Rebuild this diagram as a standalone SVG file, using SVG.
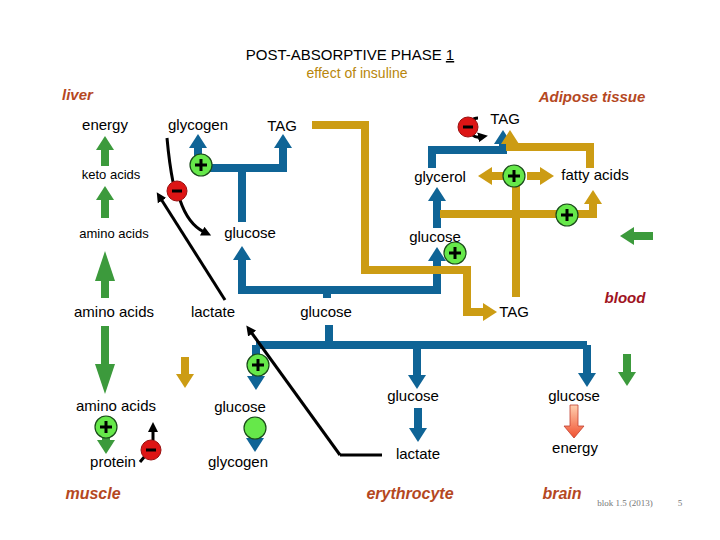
<svg xmlns="http://www.w3.org/2000/svg" width="720" height="540" viewBox="0 0 720 540">
<style>
text{font-family:"Liberation Sans",Arial,sans-serif;fill:#000}
.t{font-size:15px}
.s{font-size:13px;font-weight:bold}
.r{font-size:15px;font-style:italic;font-weight:bold;fill:#b5481f}
.b{fill:none;stroke:#0f6496;stroke-width:8}
.g{fill:none;stroke:#cc9c14;stroke-width:8}
.gr{fill:none;stroke:#3c9a3c;stroke-width:8}
.k{fill:none;stroke:#000;stroke-width:3}
.p{fill:#66e84a;stroke:#1a4a1a;stroke-width:1.2}
.m{fill:#dd1515;stroke:#991010;stroke-width:1}
.sym{stroke:#000;stroke-width:3}
</style>
<defs>
<marker id="ab" markerUnits="userSpaceOnUse" markerWidth="20" markerHeight="20" refX="2" refY="10" orient="auto"><path d="M0,1 L14,10 L0,19 Z" fill="#0f6496"/></marker>
<marker id="ag" markerUnits="userSpaceOnUse" markerWidth="20" markerHeight="20" refX="2" refY="10" orient="auto"><path d="M0,1 L14,10 L0,19 Z" fill="#cc9c14"/></marker>
<marker id="agr" markerUnits="userSpaceOnUse" markerWidth="20" markerHeight="20" refX="2" refY="10" orient="auto"><path d="M0,1 L14,10 L0,19 Z" fill="#3c9a3c"/></marker>
<marker id="agr2" markerUnits="userSpaceOnUse" markerWidth="32" markerHeight="22" refX="2" refY="11" orient="auto"><path d="M0,1 L30,11 L0,21 Z" fill="#3c9a3c"/></marker>
<marker id="ak" markerUnits="userSpaceOnUse" markerWidth="12" markerHeight="12" refX="2" refY="6" orient="auto"><path d="M0,1 L10,6 L0,11 Z" fill="#000"/></marker>
<linearGradient id="sal" x1="0" y1="0" x2="0" y2="1"><stop offset="0" stop-color="#ffd0b0"/><stop offset="1" stop-color="#f05030"/></linearGradient>
</defs>

<g id="titles">
<text x="350" y="60" text-anchor="middle" style="font-size:15px">POST-ABSORPTIVE PHASE <tspan text-decoration="underline">1</tspan></text>
<text x="357" y="78" text-anchor="middle" style="font-size:14px;fill:#b8860b">effect of insuline</text>
<text x="62" y="100" class="r">liver</text>
<text x="592" y="102" class="r" text-anchor="middle">Adipose tissue</text>
<text x="625" y="303" class="r" text-anchor="middle" style="fill:#a0141e">blood</text>
<text x="93" y="499" class="r" text-anchor="middle" style="font-size:16px">muscle</text>
<text x="410" y="499" class="r" text-anchor="middle" style="font-size:16px">erythrocyte</text>
<text x="562" y="499" class="r" text-anchor="middle" style="font-size:16px">brain</text>
<text x="625" y="506" text-anchor="middle" style="font-family:'Liberation Serif',serif;font-size:9px;fill:#777">blok 1.5 (2013)</text>
<text x="680" y="506" text-anchor="middle" style="font-family:'Liberation Serif',serif;font-size:9px;fill:#777">5</text>
</g>

<g id="connectors">
<!-- liver green -->
<line class="gr" x1="105" y1="166" x2="105" y2="148" marker-end="url(#agr)"/>
<line class="gr" x1="105" y1="218" x2="105" y2="198" marker-end="url(#agr)"/>
<line class="gr" x1="105" y1="298" x2="105" y2="279" marker-end="url(#agr2)"/>
<line class="gr" x1="105" y1="326" x2="105" y2="366" marker-end="url(#agr2)"/>
<line class="gr" x1="627" y1="354" x2="627" y2="374" marker-end="url(#agr)"/>
<line class="gr" x1="653" y1="236" x2="632" y2="236" marker-end="url(#agr)"/>
<line class="gr" x1="106" y1="437" x2="106" y2="442" marker-end="url(#agr)"/>
<line class="g" x1="185" y1="357" x2="185" y2="376" marker-end="url(#ag)"/>
<!-- blue -->
<path class="b" d="M198,172 V168 H283 V146" marker-end="url(#ab)"/>
<line class="b" x1="198" y1="168" x2="198" y2="146" marker-end="url(#ab)"/>
<line class="b" x1="242" y1="168" x2="242" y2="222"/>
<path class="b" d="M327,298 V290 H242 V258" marker-end="url(#ab)"/>
<path class="b" d="M327,290 H437 V259" marker-end="url(#ab)"/>
<line class="b" x1="437" y1="228" x2="437" y2="199" marker-end="url(#ab)"/>
<path class="b" d="M432,168 V150 H503 V142" marker-end="url(#ab)"/>
<path class="b" d="M329,325 V345 M256,345 H587 M256,345 V380" />
<line class="b" x1="256" y1="372" x2="256" y2="378" marker-end="url(#ab)"/>
<line class="b" x1="417" y1="345" x2="417" y2="377" marker-end="url(#ab)"/>
<line class="b" x1="587" y1="345" x2="587" y2="375" marker-end="url(#ab)"/>
<line class="b" x1="418" y1="408" x2="418" y2="430" marker-end="url(#ab)"/>
<line class="b" x1="255" y1="438" x2="255" y2="440" marker-end="url(#ab)"/>
<path d="M570,405 H578 V426 H584 L574,438 L564,426 H570 Z" fill="url(#sal)" stroke="#c04030" stroke-width="0.8"/>
<!-- gold -->
<path class="g" d="M312,125 H365 V270 H467 V312 H485" marker-end="url(#ag)"/>
<line class="g" x1="516" y1="297" x2="516" y2="177"/>
<line class="g" x1="505" y1="176" x2="490" y2="176" marker-end="url(#ag)"/>
<line class="g" x1="527" y1="176" x2="542" y2="176" marker-end="url(#ag)"/>
<path class="g" d="M440,214 H593 V202" marker-end="url(#ag)"/>
<path class="g" d="M590,168 V147 H510 V142" marker-end="url(#ag)"/>
<!-- black -->
<line class="k" x1="225" y1="300" x2="161" y2="199" marker-end="url(#ak)"/>
<path class="k" d="M340,455 L251,332" marker-end="url(#ak)"/>
<line class="k" x1="340" y1="455" x2="382" y2="455"/>
<path class="k" d="M167,138 C169,160 171,172 173,182" stroke-width="2.5"/>
<path class="k" d="M180,200 C186,218 196,228 204,232" stroke-width="2.5" marker-end="url(#ak)"/>
<path d="M140,462 L150,450 M153,440 V430" class="k" stroke-width="2.5" marker-end="url(#ak)"/>
<path d="M478,118 C472,118 470,122 470,126 M470,128 C470,134 474,138 480,137" class="k" stroke-width="2.5" marker-end="url(#ak)"/>
</g>

<g id="circles">
<g id="plus1"><circle class="p" cx="201" cy="165" r="11"/><path class="sym" d="M195,165 H207 M201,159 V171"/></g>
<g id="minus1"><circle class="m" cx="177" cy="191" r="10"/><path class="sym" d="M172,191 H182"/></g>
<g id="minus2"><circle class="m" cx="468" cy="127" r="10"/><path class="sym" d="M463,127 H473"/></g>
<g id="plus2"><circle class="p" cx="514" cy="176" r="11"/><path class="sym" d="M508,176 H520 M514,170 V182"/></g>
<g id="plus3"><circle class="p" cx="567" cy="215" r="11"/><path class="sym" d="M561,215 H573 M567,209 V221"/></g>
<g id="plus4"><circle class="p" cx="455" cy="253" r="11"/><path class="sym" d="M449,253 H461 M455,247 V259"/></g>
<g id="plus5"><circle class="p" cx="258" cy="365" r="11"/><path class="sym" d="M252,365 H264 M258,359 V371"/></g>
<g id="plus6"><circle class="p" cx="106" cy="427" r="11"/><path class="sym" d="M100,427 H112 M106,421 V433"/></g>
<g id="minus3"><circle class="m" cx="151" cy="450" r="10"/><path class="sym" d="M146,450 H156"/></g>
<g id="circ"><circle class="p" cx="255" cy="428" r="11"/></g>
</g>

<g id="labels">
<text x="105" y="130" class="t" text-anchor="middle">energy</text>
<text x="198" y="130" class="t" text-anchor="middle">glycogen</text>
<text x="282" y="131" class="t" text-anchor="middle">TAG</text>
<text x="111" y="179" class="s" text-anchor="middle" style="font-weight:normal">keto acids</text>
<text x="114" y="238" class="s" text-anchor="middle" style="font-weight:normal">amino acids</text>
<text x="250" y="238" class="t" text-anchor="middle">glucose</text>
<text x="114" y="317" class="t" text-anchor="middle">amino acids</text>
<text x="213" y="317" class="t" text-anchor="middle">lactate</text>
<text x="326" y="317" class="t" text-anchor="middle">glucose</text>
<text x="505" y="124" class="t" text-anchor="middle">TAG</text>
<text x="440" y="182" class="t" text-anchor="middle">glycerol</text>
<text x="595" y="180" class="t" text-anchor="middle">fatty acids</text>
<text x="435" y="242" class="t" text-anchor="middle">glucose</text>
<text x="514" y="317" class="t" text-anchor="middle">TAG</text>
<text x="116" y="411" class="t" text-anchor="middle">amino acids</text>
<text x="113" y="467" class="t" text-anchor="middle">protein</text>
<text x="240" y="412" class="t" text-anchor="middle">glucose</text>
<text x="238" y="467" class="t" text-anchor="middle">glycogen</text>
<text x="413" y="401" class="t" text-anchor="middle">glucose</text>
<text x="418" y="459" class="t" text-anchor="middle">lactate</text>
<text x="574" y="401" class="t" text-anchor="middle">glucose</text>
<text x="575" y="453" class="t" text-anchor="middle">energy</text>
</g>
</svg>
